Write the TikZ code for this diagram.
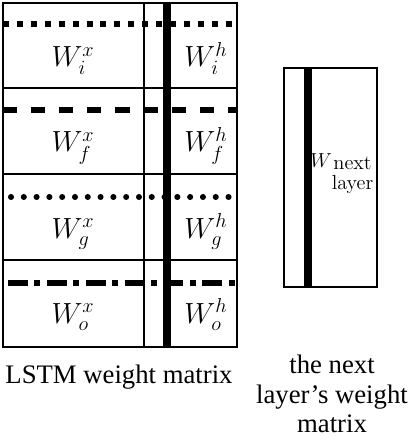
\documentclass[tikz,border=0pt]{standalone}
\usepackage{amsmath}
\usepackage{fontspec}
\newfontfamily\capfont{Liberation Serif}
\usepackage{tikz}
\usetikzlibrary{positioning, calc}

\begin{document}
\begin{tikzpicture}[x=0.025cm, y=-0.025cm]
\tikzstyle{frame} = [line width=0.8pt]
\tikzstyle{bar} = [line width=5.3pt]
\tikzstyle{gateline} = [line width=4.3pt]
\tikzstyle{weight} = [inner sep=0pt, anchor=base, font=\fontsize{20.5}{24}\selectfont]
\tikzstyle{caption} = [inner sep=0pt, align=center, font=\capfont\fontsize{19}{21}\selectfont]

\useasboundingbox (0,0) rectangle (410,439);

% LSTM weight matrix
\coordinate (lstmNW) at (3,3);
\coordinate (lstmSE) at (237,347);
\draw[frame] (lstmNW) rectangle (lstmSE);
\foreach \y in {88,174,260} \draw[frame] (3,\y) -- (237,\y);
\draw[frame] (144,3) -- (144,347);

% one line style per gate
\draw[gateline, dash pattern=on 4.25pt off 5.65pt] (3,24) -- (237,24);
\draw[gateline, dash pattern=on 10pt off 10pt] (3,110) -- (237,110);
\draw[gateline, line cap=round, dash pattern=on 0pt off 9.1pt] (11,197) -- (234,197);
\draw[gateline, dash pattern=on 14.2pt off 4.6pt on 4.25pt off 4.6pt] (8,283) -- (237,283);

\draw[bar] (167,3) -- (167,347);

\node[weight] (wix) at (73,67) {$W_i^x$};
\node[weight] (wih) at (206,67) {$W_i^h$};
\node[weight] (wfx) at (73,152) {$W_f^x$};
\node[weight] (wfh) at (206,152) {$W_f^h$};
\node[weight] (wgx) at (73,238) {$W_g^x$};
\node[weight] (wgh) at (206,238) {$W_g^h$};
\node[weight] (wox) at (73,323) {$W_o^x$};
\node[weight] (woh) at (206,323) {$W_o^h$};

% next layer's weight matrix
\draw[frame] (284,68) rectangle (377,287);
\draw[bar] (308,68) -- (308,287);
\node[anchor=base west, inner sep=0pt, font=\fontsize{14.5}{14.2}\selectfont] (wnext) at (310,167)
  {$W$\raisebox{-2pt}{\begin{tabular}[t]{@{}c@{}}next\\layer\end{tabular}}};

% captions
\node[caption, anchor=base] (lstmcap) at (119,383) {LSTM weight matrix};
\node[caption, anchor=north] (nextcap) at (332,355) {the next\\layer’s weight\\matrix};
\end{tikzpicture}
\end{document}
